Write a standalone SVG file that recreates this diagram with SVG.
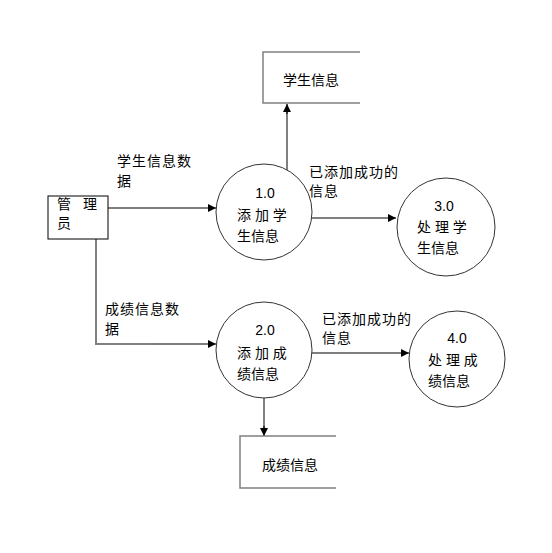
<svg xmlns="http://www.w3.org/2000/svg" width="552" height="553" viewBox="0 0 552 553">
<defs>
<style>
text{font-family:"Liberation Sans","Noto Sans CJK SC",sans-serif;font-size:14px;fill:#000}
.lbl{letter-spacing:1px}
.circ{fill:#fff;stroke:#333;stroke-width:1}
.box{fill:#fff;stroke:#000;stroke-width:1}
.store{fill:none;stroke:#808080;stroke-width:1.5}
.ln{fill:none;stroke:#000;stroke-width:1.2}
.gl{fill:none;stroke:#808080;stroke-width:2}
</style>
<marker id="ah" viewBox="0 0 10 10" refX="10" refY="5" markerWidth="9" markerHeight="8" markerUnits="userSpaceOnUse" orient="auto">
<path d="M0,0 L10,5 L0,10 Z" fill="#000"/>
</marker>
</defs>
<rect width="552" height="553" fill="#fff"/>

<g id="connectors">
<line class="ln" x1="108" y1="208" x2="216" y2="208" marker-end="url(#ah)"/>
<path class="gl" d="M96,239 L96,344 L150,344"/>
<line class="ln" x1="150" y1="344" x2="216" y2="344" marker-end="url(#ah)"/>
<line class="gl" x1="287" y1="176" x2="287" y2="112"/>
<line class="ln" x1="287" y1="114" x2="287" y2="104" marker-end="url(#ah)"/>
<line class="ln" x1="312" y1="218" x2="396" y2="218" marker-end="url(#ah)"/>
<line class="ln" x1="312" y1="353" x2="409" y2="353" marker-end="url(#ah)"/>
<line class="gl" x1="264" y1="398" x2="264" y2="428"/>
<line class="ln" x1="264" y1="426" x2="264" y2="436" marker-end="url(#ah)"/>
</g>

<g id="labels">
<text class="lbl" x="117" y="166">学生信息数</text>
<text class="lbl" x="117" y="186">据</text>
<text class="lbl" x="105" y="314">成绩信息数</text>
<text class="lbl" x="105" y="334">据</text>
<text class="lbl" x="309" y="177">已添加成功的</text>
<text class="lbl" x="309" y="196">信息</text>
<text class="lbl" x="322" y="324">已添加成功的</text>
<text class="lbl" x="322" y="343">信息</text>
</g>

<g id="manager">
<rect class="box" x="48" y="196" width="60" height="43"/>
<text x="57" y="209">管</text>
<text x="83" y="209">理</text>
<text x="57" y="228">员</text>
</g>

<g id="p1">
<circle class="circ" cx="264" cy="212" r="48"/>
<text x="265" y="198" text-anchor="middle">1.0</text>
<text x="237" y="220">添 加 学</text>
<text x="237" y="241">生信息</text>
</g>

<g id="p2">
<circle class="circ" cx="264" cy="350" r="48"/>
<text x="265" y="335" text-anchor="middle">2.0</text>
<text x="237" y="358">添 加 成</text>
<text x="237" y="379">绩信息</text>
</g>

<g id="p3">
<circle class="circ" cx="446" cy="227" r="49"/>
<text x="444" y="211" text-anchor="middle">3.0</text>
<text x="417" y="232">处 理 学</text>
<text x="417" y="253">生信息</text>
</g>

<g id="p4">
<circle class="circ" cx="457" cy="359" r="48"/>
<text x="457" y="343" text-anchor="middle">4.0</text>
<text x="428" y="365">处 理 成</text>
<text x="428" y="386">绩信息</text>
</g>

<g id="store1">
<path class="store" d="M360,52 L263,52 L263,103 L360,103"/>
<text x="283" y="85">学生信息</text>
</g>

<g id="store2">
<path class="store" d="M336,436 L240,436 L240,488 L336,488"/>
<text x="262" y="470">成绩信息</text>
</g>
</svg>
